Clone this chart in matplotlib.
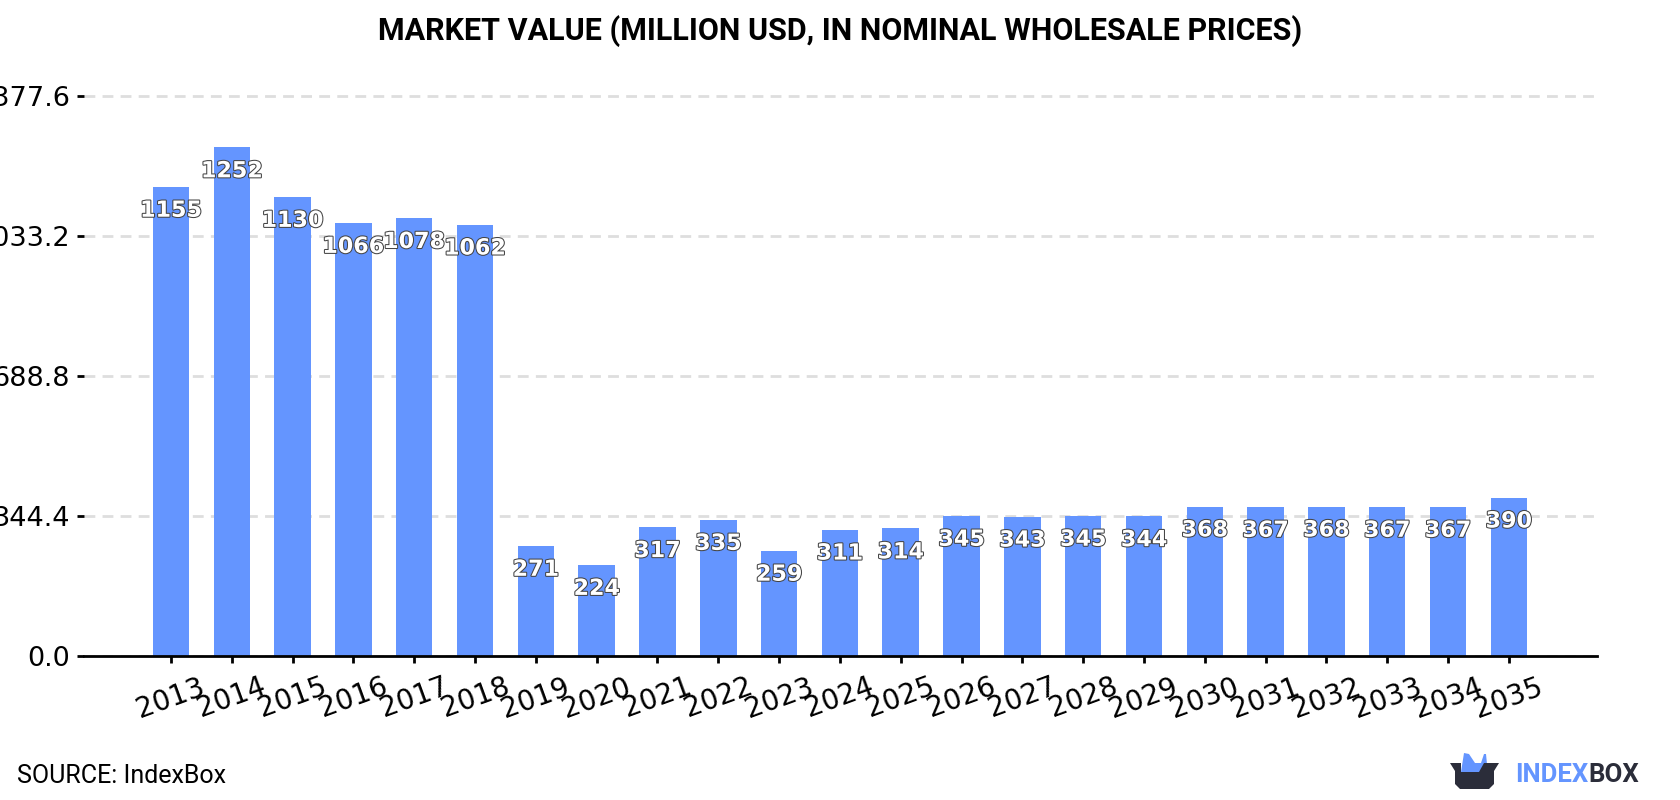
import matplotlib
matplotlib.use("Agg")
import matplotlib.pyplot as plt
import matplotlib.patheffects as pe
from matplotlib.patches import Polygon

years = list(range(2013, 2036))
values = [1155, 1252, 1130, 1066, 1078, 1062, 271, 224, 317, 335, 259, 311,
          314, 345, 343, 345, 344, 368, 367, 368, 367, 367, 390]
y_ticks = [0.0, 344.4, 688.8, 1033.2, 1377.6]
title = "MARKET VALUE (MILLION USD, IN NOMINAL WHOLESALE PRICES)"
source = "SOURCE: IndexBox"

BLUE = "#6495ff"
DARK = "#2b2d3a"
W, H = 1680, 800

fig = plt.figure(figsize=(W / 100, H / 100), dpi=100, facecolor="white")
top_px, bottom_px, left_px, right_px = 80, 656, 84, 1597
ax = fig.add_axes([left_px / W, 1 - bottom_px / H,
                   (right_px - left_px) / W, (bottom_px - top_px) / H])

ax.bar(years, values, width=0.6, color=BLUE, zorder=2)
ax.set_xlim(2013 - 1.43, 2035 + 1.45)
ax.set_ylim(0, (bottom_px - top_px) / 0.4062)

ax.set_yticks(y_ticks, [f"{v:.1f}" for v in y_ticks])
ax.set_xticks(years, [str(y) for y in years], rotation=20, ha="center")
ax.tick_params(axis="y", labelsize=19.5, length=5, width=2, pad=5, color="black")
ax.tick_params(axis="x", labelsize=20, length=5, width=2, pad=7, color="black")
ax.grid(axis="y", color="#dedede", linewidth=2, dashes=(3.9, 2.6), zorder=1)
ax.set_axisbelow(True)
for side in ("top", "right", "left"):
    ax.spines[side].set_visible(False)
ax.spines["bottom"].set_linewidth(2)
ax.spines["bottom"].set_bounds(ax.get_xlim())

# Value labels sit just under the top of each bar
for year, value in zip(years, values):
    ax.annotate(str(value), (year, value), xytext=(0, -17.2), textcoords="offset points",
                ha="center", va="center", fontsize=16, fontweight="bold",
                color="white", zorder=3, family="DejaVu Sans",
                path_effects=[pe.withStroke(linewidth=1.5, foreground="#444444")])

fig.text(0.5, 1 - 31 / H, title, ha="center", va="center", fontsize=22,
         fontweight="bold", family="Roboto", color="black")
fig.text(17 / W, 1 - 776 / H, source, ha="left", va="center", fontsize=18,
         family="Roboto", color="black")

# Brand mark in the lower right corner, laid out on a pixel grid
overlay = fig.add_axes([0, 0, 1, 1], facecolor="none")
overlay.set_xlim(0, W)
overlay.set_ylim(H, 0)
overlay.axis("off")
overlay.add_patch(Polygon([(1461, 772), (1464, 753), (1469, 754), (1475, 763), (1481, 763),
                           (1484, 754), (1486, 754), (1487, 764), (1480, 772)],
                          closed=True, color=BLUE, lw=0))
overlay.add_patch(Polygon([(1450, 763), (1461, 763), (1461, 772), (1479, 772), (1484, 763),
                           (1499, 763), (1494, 771), (1494, 784), (1489, 789), (1460, 789),
                           (1455, 784), (1455, 771)],
                          closed=True, color=DARK, lw=0))
brand_a = overlay.text(1515, 774.5, "INDEX", ha="left", va="center", fontsize=18.5,
                       fontweight="bold", family="Roboto", color=BLUE)
fig.canvas.draw()
bbox = brand_a.get_window_extent()
overlay.text(bbox.x1, 774.5, "BOX", ha="left", va="center", fontsize=18.5,
             fontweight="bold", family="Roboto", color=DARK)

fig.savefig("out.png", dpi=100)
